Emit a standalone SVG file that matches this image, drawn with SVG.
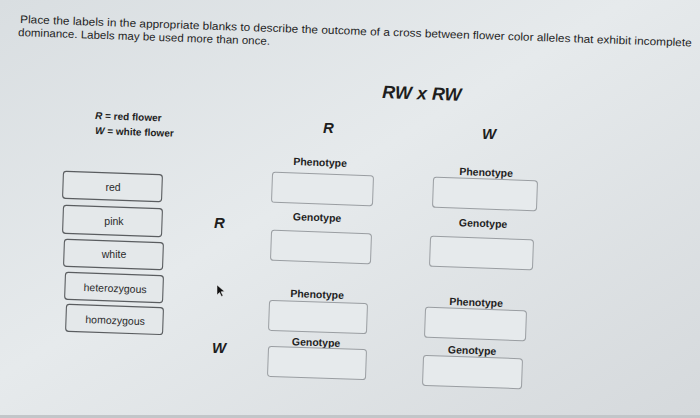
<svg xmlns="http://www.w3.org/2000/svg" width="700" height="418" viewBox="0 0 700 418">
<defs>
<linearGradient id="bg" x1="0" y1="0" x2="1" y2="1">
<stop offset="0" stop-color="#d9dee1"/>
<stop offset="0.45" stop-color="#e6eaec"/>
<stop offset="1" stop-color="#d5d9dc"/>
</linearGradient>
<style>
text{font-family:"Liberation Sans",Arial,sans-serif;fill:#1e1e1e}
.hdr{font-size:11px}
.key{font-size:10px;font-weight:bold}
.big{font-size:18px;font-weight:bold;font-style:italic}
.al{font-size:15px;font-weight:bold;font-style:italic}
.lab{font-size:10.5px;font-weight:bold;text-anchor:middle}
.lbl{font-size:10.5px;text-anchor:middle;fill:#2a2a2a}
.tile{fill:#e4e8ea;stroke:#5a5d60;stroke-width:1.1}
.blank{fill:#e6eaec;stroke:#9a9ea2;stroke-width:1}
</style>
</defs>
<rect width="700" height="418" fill="url(#bg)"/>
<rect y="415" width="700" height="3" fill="#c2c6c9"/>

<g id="instructions">
<text class="hdr" x="20" y="23" transform="rotate(2 20 23)" textLength="672" lengthAdjust="spacingAndGlyphs">Place the labels in the appropriate blanks to describe the outcome of a cross between flower color alleles that exhibit incomplete</text>
<text class="hdr" x="18" y="36" transform="rotate(2 18 36)" textLength="252" lengthAdjust="spacingAndGlyphs">dominance. Labels may be used more than once.</text>
</g>

<g id="key">
<text class="key" x="95" y="119" transform="rotate(2 95 119)"><tspan font-style="italic">R</tspan> = red flower</text>
<text class="key" x="95" y="134" transform="rotate(2 95 134)"><tspan font-style="italic">W</tspan> = white flower</text>
</g>

<g id="cross-title">
<text class="big" x="382" y="98" transform="rotate(2 382 98)">RW x RW</text>
</g>

<g id="labels">
<g id="label-red"><rect class="tile" x="63" y="173" width="99" height="27" rx="3" transform="rotate(2 112 186)"/><text class="lbl" x="113" y="191">red</text></g>
<g id="label-pink"><rect class="tile" x="63" y="207" width="99" height="28" rx="3" transform="rotate(2 112 221)"/><text class="lbl" x="114" y="225">pink</text></g>
<g id="label-white"><rect class="tile" x="64" y="241" width="99" height="27" rx="3" transform="rotate(2 113 254)"/><text class="lbl" x="114" y="258">white</text></g>
<g id="label-heterozygous"><rect class="tile" x="65" y="274" width="98" height="27" rx="3" transform="rotate(2 114 288)"/><text class="lbl" x="115" y="292" transform="rotate(2 115 292)">heterozygous</text></g>
<g id="label-homozygous"><rect class="tile" x="66" y="306" width="97" height="27" rx="3" transform="rotate(2 115 320)"/><text class="lbl" x="115" y="324" transform="rotate(2 115 324)">homozygous</text></g>
</g>

<g id="alleles">
<text class="al" x="323" y="133">R</text>
<text class="al" x="482" y="139">W</text>
<text class="al" x="214" y="228">R</text>
<text class="al" x="212" y="353">W</text>
</g>

<g id="cell-RR">
<text class="lab" x="320" y="166" transform="rotate(2 320 166)">Phenotype</text>
<rect class="blank" x="272" y="174" width="101" height="30" rx="3" transform="rotate(2 322 189)"/>
<text class="lab" x="317" y="221" transform="rotate(2 317 221)">Genotype</text>
<rect class="blank" x="271" y="232" width="100" height="30" rx="3" transform="rotate(2 321 247)"/>
</g>

<g id="cell-RW-top">
<text class="lab" x="486" y="176" transform="rotate(2 486 176)">Phenotype</text>
<rect class="blank" x="433" y="179" width="104" height="30" rx="3" transform="rotate(2 485 194)"/>
<text class="lab" x="483" y="227" transform="rotate(2 483 227)">Genotype</text>
<rect class="blank" x="430" y="238" width="103" height="30" rx="3" transform="rotate(2 481 253)"/>
</g>

<g id="cell-RW-bottom">
<text class="lab" x="317" y="298" transform="rotate(2 317 298)">Phenotype</text>
<rect class="blank" x="269" y="302" width="98" height="30" rx="3" transform="rotate(2 318 317)"/>
<text class="lab" x="316" y="346" transform="rotate(2 316 346)">Genotype</text>
<rect class="blank" x="268" y="348" width="98" height="30" rx="3" transform="rotate(2 317 363)"/>
</g>

<g id="cell-WW">
<text class="lab" x="476" y="306" transform="rotate(2 476 306)">Phenotype</text>
<rect class="blank" x="425" y="309" width="101" height="30" rx="3" transform="rotate(2 475 324)"/>
<text class="lab" x="472" y="354" transform="rotate(2 472 354)">Genotype</text>
<rect class="blank" x="423" y="357" width="99" height="30" rx="3" transform="rotate(2 472 372)"/>
</g>

<g id="cursor">
<path d="M217 285 L217 295 L219.5 292.5 L221.5 296.5 L223 295.8 L221 291.8 L224.5 291.5 Z" fill="#111" stroke="#eee" stroke-width="0.5"/>
</g>
</svg>
